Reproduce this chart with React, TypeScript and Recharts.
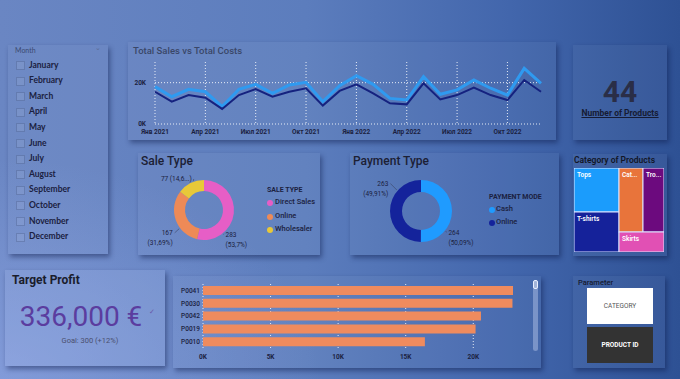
import React from 'react';
import {
    BarChart,
    Bar,
    CartesianGrid,
    Cell,
    Line,
    LineChart,
    Pie,
    PieChart,
    Treemap,
    XAxis,
    YAxis,
} from 'recharts';

// ---- data ----
const monthNames = ['January', 'February', 'March', 'April', 'May', 'June', 'July', 'August', 'September', 'October', 'November', 'December'];

const monthAbbr = ['Янв', 'Фев', 'Мар', 'Апр', 'Май', 'Июн', 'Июл', 'Авг', 'Сен', 'Окт', 'Ноя', 'Дек'];
const years = ['2021', '2022'];
const periods = years.flatMap((y) => monthAbbr.map((m) => `${m} ${y}`));
const quarterTicks = ['Янв 2021', 'Апр 2021', 'Июл 2021', 'Окт 2021', 'Янв 2022', 'Апр 2022', 'Июл 2022', 'Окт 2022'];

const totalSales = [18100, 13200, 16800, 15600, 8400, 16800, 19200, 14800, 18900, 20200, 10800, 18500, 23400, 19200, 12400, 11600, 22900, 14400, 16500, 21300, 17300, 14000, 26900, 19700];
const totalCosts = [15600, 10800, 14000, 12700, 7300, 14000, 16900, 13200, 15600, 17300, 8900, 16000, 19200, 14800, 10000, 9500, 19700, 11900, 14000, 17600, 14000, 11600, 21300, 15600];

const saleTypes = ['Direct Sales', 'Online', 'Wholesaler'];
const saleTypeCounts = [283, 167, 77];

const paymentModes = ['Cash', 'Online'];
const paymentCounts = [264, 263];

const productIds = ['P0041', 'P0030', 'P0042', 'P0019', 'P0010'];
const productProfit = [22940, 22900, 20570, 20170, 16420];

const categoryNames = ['Tops', 'T-shirts', 'Cat...', 'Tro...', 'Skirts'];
const categoryCounts = [2000, 1800, 1560, 1340, 860];

// ---- styling ----
const saleColors = ['#e65ec6', '#ee8a57', '#e8c838'];
const paymentColors = ['#1f9bff', '#14239b'];
const categoryColors = ['#1b9cfc', '#15229a', '#e8743b', '#6c0a7e', '#e150b4'];
const ink = '#1b2140';
const font = 'Roboto, "Noto Sans", sans-serif';

// label placement around the donuts (screen angle in degrees, gap past the ring)
const saleLabelLayout = [
    { angle: 50, gap: 2, oneLine: false },
    { angle: 143, gap: 8, oneLine: false },
    { angle: 250, gap: 3, oneLine: true },
];
const paymentLabelLayout = [
    { angle: 39, gap: 3, oneLine: false },
    { angle: 221, gap: 11, oneLine: false },
];

const lineData = periods.map((p, i) => ({ period: p, sales: totalSales[i], costs: totalCosts[i] }));
const saleData = saleTypes.map((n, i) => ({ name: n, value: saleTypeCounts[i] }));
const paymentData = paymentModes.map((n, i) => ({ name: n, value: paymentCounts[i] }));
const barData = productIds.map((n, i) => ({ name: n, profit: productProfit[i] }));
const treeData = categoryNames.map((n, i) => ({ name: n, size: categoryCounts[i] }));

const pct = (v: number, total: number) =>
    (Math.round((v / total) * 10000) / 100).toString().replace('.', ',') + '%';

const Panel = ({ x, y, w, h, bg, children }: any) => (
    <div
        style={{
            position: 'absolute',
            left: x,
            top: y,
            width: w,
            height: h,
            background: bg || 'rgba(255,255,255,0.04)',
            boxShadow: '2px 3px 5px rgba(10,25,70,0.45)',
        }}
    >
        {children}
    </div>
);

const Abs = ({ x, y, children, style }: any) => (
    <div style={{ position: 'absolute', left: x, top: y, whiteSpace: 'nowrap', ...style }}>{children}</div>
);

const makeDonutLabel = (values: number[], layout: any[]) => (props: any) => {
    const { cx, cy, outerRadius, index } = props;
    const total = values.reduce((a, b) => a + b, 0);
    const v = values[index];
    const l = layout[index];
    const rad = (l.angle * Math.PI) / 180;
    const c = Math.cos(rad);
    const s = Math.sin(rad);
    const px = cx + (outerRadius + l.gap) * c;
    const py = cy + (outerRadius + l.gap) * s;
    const right = c > 0;
    const tx = right ? px + 1 : px - 1;
    const p = pct(v, total);
    const style = { fontSize: 6.5, fill: ink, fontFamily: font };
    return (
        <g>
            <line
                x1={cx + (outerRadius + 1) * c}
                y1={cy + (outerRadius + 1) * s}
                x2={px + (right ? -1 : 1)}
                y2={py}
                stroke="#3a4565"
                strokeWidth={0.6}
            />
            {l.oneLine ? (
                <text x={tx} y={py + 2.5} textAnchor={right ? 'start' : 'end'} style={style}>
                    {`${v} (${p.slice(0, 4)}...)`}
                </text>
            ) : (
                <text textAnchor={right ? 'start' : 'end'} style={style}>
                    <tspan x={tx} y={py + 2.5}>{v}</tspan>
                    <tspan x={tx} y={py + 12.5}>({p})</tspan>
                </text>
            )}
        </g>
    );
};

const Tile = (props: any) => {
    const { x, y, width, height, depth, index, name } = props;
    if (depth !== 1) return <g />;
    return (
        <g>
            <rect x={x} y={y} width={width} height={height} fill={categoryColors[index]} stroke="#dbe3ff" strokeWidth={1} />
            <text x={x + 3} y={y + 9} fill="#fff" fontSize={6.5} fontWeight={600} fontFamily={font}>
                {name}
            </text>
        </g>
    );
};

const tickStyle = { fontSize: 6.5, fill: ink, fontWeight: 700, fontFamily: font };

const App = () => {
    return (
        <div
            style={{
                position: 'absolute',
                left: 0,
                top: 0,
                width: 680,
                height: 379,
                overflow: 'hidden',
                fontFamily: font,
                background:
                    'radial-gradient(ellipse 320px 220px at 0% 100%, rgba(150,172,235,0.55), rgba(150,172,235,0) 100%), linear-gradient(to right, #6a86c3 0%, #5c7dbd 45%, #4266ac 75%, #2e5194 100%)',
            }}
        >
            {/* month slicer */}
            <Panel x={8} y={45} w={100} h={209}>
                <Abs x={7} y={1} style={{ fontSize: 7, color: '#3c4a72', fontFamily: 'Lato, sans-serif' }}>
                    Month
                </Abs>
                <Abs x={87} y={-1} style={{ fontSize: 7, color: '#5a6b95' }}>
                    ⌄
                </Abs>
                {monthNames.map((m, i) => (
                    <div key={m}>
                        <div
                            style={{
                                position: 'absolute',
                                left: 8,
                                top: 16 + i * 15.6,
                                width: 7,
                                height: 7,
                                border: '1px solid rgba(60,80,130,0.35)',
                                background: 'rgba(255,255,255,0.08)',
                            }}
                        />
                        <Abs
                            x={21}
                            y={13.5 + i * 15.6}
                            style={{ fontSize: 8.5, fontWeight: 700, color: ink, fontFamily: 'Lato, sans-serif', lineHeight: '12px' }}
                        >
                            {m}
                        </Abs>
                    </div>
                ))}
            </Panel>

            {/* sales vs costs */}
            <Panel x={128} y={42} w={428} h={98}>
                <Abs x={5} y={3} style={{ fontSize: 9.5, fontWeight: 500, color: '#3a4768' }}>
                    Total Sales vs Total Costs
                </Abs>
            </Panel>
            <div style={{ position: 'absolute', left: 128, top: 55 }}>
                <LineChart width={428} height={85} data={lineData} margin={{ top: 7, right: 15, left: 0, bottom: 0 }}>
                    <CartesianGrid stroke="rgba(255,255,255,0.85)" strokeDasharray="1 2" syncWithTicks />
                    <XAxis
                        dataKey="period"
                        ticks={quarterTicks}
                        interval={0}
                        axisLine={false}
                        tickLine={false}
                        tickSize={0}
                        tickMargin={5}
                        height={16}
                        tick={tickStyle}
                    />
                    <YAxis
                        domain={[0, 30000]}
                        ticks={[0, 20000]}
                        width={27}
                        axisLine={false}
                        tickLine={false}
                        tickSize={0}
                        tickMargin={9}
                        tick={tickStyle}
                        tickFormatter={(v) => `${v / 1000}K`}
                    />
                    <Line dataKey="sales" stroke="#2f9af0" strokeWidth={3} dot={false} isAnimationActive={false} />
                    <Line dataKey="costs" stroke="#15227f" strokeWidth={2} dot={false} isAnimationActive={false} />
                </LineChart>
            </div>

            {/* number of products */}
            <Panel x={573} y={45} w={94} h={95}>
                <Abs x={0} y={31} style={{ width: 94, textAlign: 'center', fontSize: 30, fontWeight: 700, color: '#2a2e47', lineHeight: '32px' }}>
                    44
                </Abs>
                <Abs
                    x={0}
                    y={63}
                    style={{ width: 94, textAlign: 'center', fontSize: 8.5, fontWeight: 700, color: '#161b33', textDecoration: 'underline' }}
                >
                    Number of Products
                </Abs>
            </Panel>

            {/* sale type */}
            <Panel x={138} y={153} w={182} h={102}>
                <Abs x={3} y={1} style={{ fontSize: 12, fontWeight: 500, color: '#1c2034' }}>
                    Sale Type
                </Abs>
                <Abs x={129} y={33} style={{ fontSize: 7, fontWeight: 700, color: ink }}>
                    SALE TYPE
                </Abs>
                {saleTypes.map((n, i) => (
                    <div key={n}>
                        <div
                            style={{
                                position: 'absolute',
                                left: 129,
                                top: 47 + i * 13.5,
                                width: 6,
                                height: 6,
                                borderRadius: 3,
                                background: saleColors[i],
                            }}
                        />
                        <Abs x={137} y={44 + i * 13.5} style={{ fontSize: 7.5, fontWeight: 500, color: ink }}>
                            {n}
                        </Abs>
                    </div>
                ))}
            </Panel>
            <div style={{ position: 'absolute', left: 137, top: 165 }}>
                <PieChart width={130} height={90} margin={{ top: 0, right: 0, bottom: 0, left: 0 }}>
                    <Pie
                        data={saleData}
                        dataKey="value"
                        cx={67}
                        cy={45}
                        innerRadius={19}
                        outerRadius={30}
                        startAngle={90}
                        endAngle={-270}
                        stroke="none"
                        labelLine={false}
                        label={makeDonutLabel(saleTypeCounts, saleLabelLayout)}
                        isAnimationActive={false}
                    >
                        {saleData.map((d, i) => (
                            <Cell key={d.name} fill={saleColors[i]} />
                        ))}
                    </Pie>
                </PieChart>
            </div>

            {/* payment type */}
            <Panel x={350} y={153} w={209} h={102}>
                <Abs x={3} y={1} style={{ fontSize: 12, fontWeight: 500, color: '#1c2034' }}>
                    Payment Type
                </Abs>
                <Abs x={139} y={40} style={{ fontSize: 7, fontWeight: 700, color: ink }}>
                    PAYMENT MODE
                </Abs>
                {paymentModes.map((n, i) => (
                    <div key={n}>
                        <div
                            style={{
                                position: 'absolute',
                                left: 139,
                                top: 54 + i * 13,
                                width: 6,
                                height: 6,
                                borderRadius: 3,
                                background: paymentColors[i],
                            }}
                        />
                        <Abs x={146} y={51 + i * 13} style={{ fontSize: 7.5, fontWeight: 500, color: ink }}>
                            {n}
                        </Abs>
                    </div>
                ))}
            </Panel>
            <div style={{ position: 'absolute', left: 350, top: 165 }}>
                <PieChart width={140} height={90} margin={{ top: 0, right: 0, bottom: 0, left: 0 }}>
                    <Pie
                        data={paymentData}
                        dataKey="value"
                        cx={71}
                        cy={46}
                        innerRadius={19}
                        outerRadius={31}
                        startAngle={90}
                        endAngle={-270}
                        stroke="none"
                        labelLine={false}
                        label={makeDonutLabel(paymentCounts, paymentLabelLayout)}
                        isAnimationActive={false}
                    >
                        {paymentData.map((d, i) => (
                            <Cell key={d.name} fill={paymentColors[i]} />
                        ))}
                    </Pie>
                </PieChart>
            </div>

            {/* category treemap */}
            <Panel x={573} y={154} w={94} h={102}>
                <Abs x={1} y={1} style={{ fontSize: 8.5, fontWeight: 600, color: '#121626' }}>
                    Category of Products
                </Abs>
            </Panel>
            <div style={{ position: 'absolute', left: 574, top: 168 }}>
                <Treemap
                    width={90}
                    height={84}
                    data={treeData}
                    dataKey="size"
                    nameKey="name"
                    content={<Tile />}
                    isAnimationActive={false}
                />
            </div>

            {/* target profit */}
            <Panel x={5} y={270} w={160} h={96} bg="rgba(190,205,250,0.18)">
                <Abs x={7} y={3} style={{ fontSize: 12, fontWeight: 700, color: '#1a1d2c' }}>
                    Target Profit
                </Abs>
                <Abs x={0} y={34} style={{ width: 152, textAlign: 'center', fontSize: 28, color: '#5b3d9f', lineHeight: '26px' }}>
                    336,000 €
                </Abs>
                <Abs x={144} y={38} style={{ fontSize: 7, color: '#6b5aa8', lineHeight: '8px' }}>
                    ✓
                </Abs>
                <Abs x={0} y={66} style={{ width: 170, textAlign: 'center', fontSize: 7.5, color: '#4a4f6e', lineHeight: '10px' }}>
                    Goal: 300 (+12%)
                </Abs>
            </Panel>

            {/* profit by product */}
            <Panel x={173} y={276} w={368} h={92} />
            <div style={{ position: 'absolute', left: 165, top: 276 }}>
                <BarChart
                    width={375}
                    height={90}
                    data={barData}
                    layout="vertical"
                    margin={{ top: 8, right: 27, left: 0, bottom: 0 }}
                    barSize={9}
                >
                    <CartesianGrid horizontal={false} stroke="rgba(255,255,255,0.85)" strokeDasharray="1 2" syncWithTicks />
                    <XAxis
                        type="number"
                        domain={[0, 'dataMax']}
                        ticks={[0, 5000, 10000, 15000, 20000]}
                        axisLine={false}
                        tickLine={false}
                        tickSize={0}
                        tickMargin={6}
                        height={18}
                        tick={tickStyle}
                        tickFormatter={(v) => `${v / 1000}K`}
                    />
                    <YAxis
                        type="category"
                        dataKey="name"
                        width={38}
                        axisLine={false}
                        tickLine={false}
                        tickSize={0}
                        tickMargin={3}
                        tick={{ ...tickStyle, fontWeight: 500 }}
                    />
                    <Bar dataKey="profit" fill="#ef8b5e" isAnimationActive={false} />
                </BarChart>
            </div>
            <div
                style={{
                    position: 'absolute',
                    left: 533,
                    top: 280,
                    width: 5,
                    height: 71,
                    borderRadius: 3,
                    background: 'rgba(220,230,255,0.35)',
                }}
            />
            <div
                style={{
                    position: 'absolute',
                    left: 533,
                    top: 280,
                    width: 3,
                    height: 7,
                    borderRadius: 2,
                    border: '1px solid #e8eeff',
                    background: 'rgba(255,255,255,0.3)',
                }}
            />

            {/* parameter */}
            <Panel x={573} y={276} w={92} h={92}>
                <Abs x={5} y={2} style={{ fontSize: 7.5, fontWeight: 500, color: '#161a30' }}>
                    Parameter
                </Abs>
                <div
                    style={{
                        position: 'absolute',
                        left: 14,
                        top: 12,
                        width: 66,
                        height: 36,
                        background: '#fff',
                        display: 'flex',
                        alignItems: 'center',
                        justifyContent: 'center',
                        fontSize: 6.5,
                        color: '#555',
                    }}
                >
                    CATEGORY
                </div>
                <div
                    style={{
                        position: 'absolute',
                        left: 14,
                        top: 51,
                        width: 66,
                        height: 36,
                        background: '#333',
                        display: 'flex',
                        alignItems: 'center',
                        justifyContent: 'center',
                        fontSize: 6.5,
                        fontWeight: 700,
                        color: '#fff',
                    }}
                >
                    PRODUCT ID
                </div>
            </Panel>
        </div>
    );
};

export default App;
